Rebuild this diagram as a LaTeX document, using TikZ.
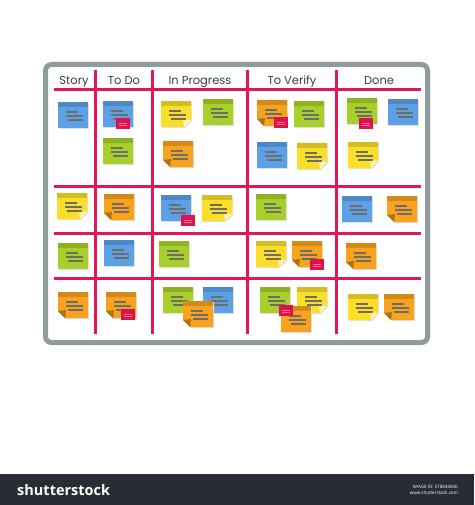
\documentclass[tikz,border=0pt]{standalone}
\usepackage{fontspec}
\setmainfont{Poppins}
\newfontfamily\logofont{Open Sans}

\definecolor{boardgray}{RGB}{143,155,158}
\definecolor{barred}{RGB}{228,22,88}
\definecolor{headgray}{RGB}{60,62,70}
\definecolor{linegray}{RGB}{110,110,105}
\definecolor{nblue}{RGB}{92,160,232}
\definecolor{ngreen}{RGB}{168,208,42}
\definecolor{nyellow}{RGB}{250,222,40}
\definecolor{norange}{RGB}{248,162,30}
\definecolor{tagred}{RGB}{222,18,78}
\definecolor{footbg}{RGB}{40,44,52}

\tikzset{
	redline/.style={draw=barred, line width=3pt},
	colhead/.style={font=\fontsize{11.5}{12}\selectfont, text=headgray, inner sep=0pt, anchor=base},
	txtline/.style={draw=linegray, line width=1.1pt},
	shadowfill/.style={fill=black!12}
}

% sticky note: x, y (top left), colour, fold (n, r or l)
\newcommand{\sticky}[4]{%
	\begin{scope}[shift={(#1,#2)}]
		\if#4r
			\fill[shadowfill] (1,1) -- (31,1) -- (31,20) -- (24,27) -- (1,27) -- cycle;
			\fill[#3] (0,0) -- (30,0) -- (30,19) -- (23,26) -- (0,26) -- cycle;
			\fill[#3!35!white] (30,19) -- (23,26) -- (22,18) -- cycle;
		\else\if#4l
			\fill[shadowfill] (1,1) -- (31,1) -- (31,27) -- (8,27) -- (1,20) -- cycle;
			\fill[#3] (0,0) -- (30,0) -- (30,26) -- (7,26) -- (0,19) -- cycle;
			\fill[#3!70!black] (0,19) -- (7,26) -- (8,18) -- cycle;
		\else
			\fill[shadowfill] (1,1) rectangle (31,27);
			\fill[#3] (0,0) rectangle (30,26);
		\fi\fi
		\fill[#3!85!black] (0,0) rectangle (30,5);
		\draw[txtline] (8,10) -- (20,10);
		\draw[txtline] (8,14) -- (25,14);
		\draw[txtline] (10,18) -- (25,18);
	\end{scope}}

% small red card
\newcommand{\tagcard}[2]{%
	\begin{scope}[shift={(#1,#2)}]
		\fill[tagred] (0,0) rectangle (14,11);
		\draw[tagred!60!white, line width=0.6pt] (3,5) -- (11,5) (3,7.5) -- (11,7.5);
	\end{scope}}

\begin{document}
\begin{tikzpicture}[x=1pt, y=-1pt]
	\useasboundingbox (0,0) rectangle (474,505);
	\fill[white] (0,0) rectangle (474,505);

	% board
	\draw[draw=boardgray, fill=white, line width=5pt, rounded corners=6pt] (45.5,64.5) rectangle (427.5,342.5);

	% headers
	\node[colhead] (story)  at (74,84.5)  {Story};
	\node[colhead] (todo)   at (124,84.5) {To Do};
	\node[colhead] (inprog) at (200,84.5) {In Progress};
	\node[colhead] (verify) at (292,84.5) {To Verify};
	\node[colhead] (done)   at (379,84.5) {Done};

	% grid
	\draw[redline] (54,90) -- (421,90);
	\draw[redline] (54,186) -- (421,186);
	\draw[redline] (54,233) -- (421,233);
	\draw[redline] (54,278) -- (421,278);
	\draw[redline] (95,70) -- (95,334);
	\draw[redline] (152,70) -- (152,334);
	\draw[redline] (247,70) -- (247,334);
	\draw[redline] (336,70) -- (336,334);

	% first row
	\sticky{58}{102}{nblue}{n}
	\sticky{103}{101}{nblue}{n}
	\tagcard{116}{118}
	\sticky{103}{138}{ngreen}{n}
	\sticky{161}{101}{nyellow}{r}
	\sticky{203}{99}{ngreen}{n}
	\sticky{163}{141}{norange}{l}
	\sticky{257}{100}{norange}{l}
	\tagcard{274}{117}
	\sticky{294}{101}{ngreen}{n}
	\sticky{257}{142}{nblue}{n}
	\sticky{297}{143}{nyellow}{r}
	\sticky{347}{98}{ngreen}{n}
	\tagcard{359}{118}
	\sticky{388}{99}{nblue}{n}
	\sticky{348}{142}{nyellow}{r}

	% second row
	\sticky{57}{193}{nyellow}{r}
	\sticky{104}{194}{norange}{l}
	\sticky{161}{195}{nblue}{n}
	\tagcard{181}{215}
	\sticky{202}{195}{nyellow}{r}
	\sticky{256}{194}{ngreen}{n}
	\sticky{342}{196}{nblue}{n}
	\sticky{387}{196}{norange}{l}

	% third row
	\sticky{58}{243}{ngreen}{n}
	\sticky{104}{240}{nblue}{n}
	\sticky{159}{241}{ngreen}{n}
	\sticky{256}{241}{nyellow}{r}
	\sticky{292}{241}{norange}{l}
	\tagcard{310}{259}
	\sticky{346}{243}{norange}{l}

	% fourth row
	\sticky{58}{292}{norange}{l}
	\sticky{106}{292}{norange}{l}
	\tagcard{121}{309}
	\sticky{163}{287}{ngreen}{n}
	\sticky{203}{287}{nblue}{n}
	\sticky{183}{301}{norange}{l}
	\sticky{260}{287}{ngreen}{n}
	\sticky{297}{287}{nyellow}{r}
	\sticky{281}{306}{norange}{n}
	\tagcard{279}{305}
	\sticky{348}{294}{nyellow}{r}
	\sticky{384}{294}{norange}{l}

	% footer
	\fill[footbg] (0,474) rectangle (474,505);
	\node[anchor=west, text=white, inner sep=0pt, font=\logofont\bfseries\fontsize{14.5}{15}\selectfont] (logo) at (17,490) {shutterstock};
	\node[anchor=east, text=white, inner sep=0pt, align=right, font=\logofont\fontsize{4.5}{5.5}\selectfont] (imgid) at (458,490) {IMAGE ID: 578846800\\www.shutterstock.com};
\end{tikzpicture}
\end{document}
